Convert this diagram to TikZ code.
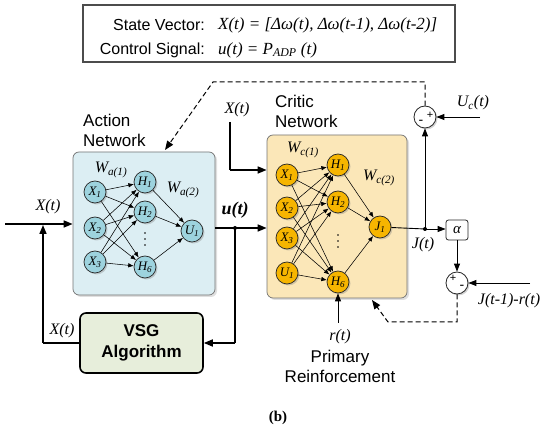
\documentclass[tikz,border=0pt]{standalone}
\usepackage{fontspec}
\setmainfont{Liberation Serif}
\setsansfont{Liberation Sans}
\usetikzlibrary{arrows.meta,shadows}
\definecolor{acfill}{HTML}{9DD3DE}
\definecolor{aboxc}{HTML}{DCEEF3}
\definecolor{cfill}{HTML}{F6B500}
\definecolor{cboxc}{HTML}{FBE7B8}
\definecolor{vsgc}{HTML}{E7EEDB}
\newcommand\ns[2]{\textit{#1}\textsubscript{\textit{#2}}}
\tikzset{
 neuA/.style={circle, draw=black!85, line width=0.7pt, fill=acfill, minimum size=22pt, inner sep=0pt,
   font=\fontsize{13}{14}\selectfont\itshape,
   drop shadow={opacity=0.35,shadow xshift=1.5pt,shadow yshift=-1.5pt}},
 neuC/.style={neuA, fill=cfill},
 netbox/.style={draw=black!55, line width=0.7pt, rounded corners=6pt, inner sep=0pt,
   drop shadow={opacity=0.25,shadow xshift=2pt,shadow yshift=-2pt}},
 wire/.style={-{Latex[length=5.5pt,width=4.5pt]}, line width=0.55pt},
 sig/.style={line width=1.6pt, -{Triangle[length=9pt,width=7pt]}},
 sigline/.style={line width=1.6pt},
 thinarr/.style={line width=0.9pt, -{Triangle[length=8pt,width=6pt]}},
 dashline/.style={line width=1pt, dash pattern=on 5pt off 3pt},
 sumnode/.style={circle, draw=black!85, line width=0.8pt, fill=white, minimum size=22pt, inner sep=0pt,
   drop shadow={opacity=0.35,shadow xshift=1.5pt,shadow yshift=-1.5pt}},
 signm/.style={font=\fontsize{14}{14}\selectfont\sffamily, inner sep=0pt},
 signp/.style={font=\fontsize{11}{11}\selectfont\sffamily, inner sep=0pt},
 lbl/.style={font=\fontsize{16}{17}\selectfont\itshape, inner sep=0pt},
 sans/.style={font=\fontsize{17}{20}\selectfont\sffamily, inner sep=0pt},
 wlbl/.style={font=\fontsize{16}{17}\selectfont\itshape, inner sep=0pt},
 jdot/.style={circle, fill=black, inner sep=0pt, minimum size=4pt},
 topsans/.style={font=\fontsize{16}{17}\selectfont\sffamily, inner sep=0pt},
 topform/.style={font=\fontsize{17}{18}\selectfont\itshape, inner sep=0pt},
}
\begin{document}
\begin{tikzpicture}[x=1pt,y=-1pt]
\useasboundingbox (0,0) rectangle (550,435);
% top box
\node[draw=black!70, line width=1.2pt, minimum width=372pt, minimum height=57pt] (top) at (269,33.5) {};
\node[anchor=east, topsans] (sv) at (205,25) {State Vector:};
\node[anchor=west, topform] (svf) at (218,25) {X(t) = [Δω(t), Δω(t-1), Δω(t-2)]};
\node[anchor=east, topsans] (cs) at (205,50) {Control Signal:};
\node[anchor=west, topform] (csf) at (218,50) {u(t) = P\textsubscript{ADP} (t)};

% boxes
\node[netbox, fill=aboxc, minimum width=142pt, minimum height=143pt] (abox) at (144,223.5) {};
\node[netbox, fill=cboxc, minimum width=140pt, minimum height=163pt] (cbox) at (337,216.5) {};
\node[sans, align=left, anchor=west] (aname) at (83,130) {Action\\Network};
\node[sans, align=left, anchor=west] (cname) at (275,111) {Critic\\Network};

% action network
\node[neuA] (aX1) at (95,192) {\ns{X}{1}};
\node[neuA] (aX2) at (95,228) {\ns{X}{2}};
\node[neuA] (aX3) at (95,262) {\ns{X}{3}};
\node[neuA] (aH1) at (145,182) {\ns{H}{1}};
\node[neuA] (aH2) at (145,212) {\ns{H}{2}};
\node[neuA] (aH6) at (145,267) {\ns{H}{6}};
\node[neuA] (aU1) at (192,231) {\ns{U}{1}};
\foreach \i in {aX1,aX2,aX3} \foreach \j in {aH1,aH2,aH6} \draw[wire] (\i) -- (\j);
\foreach \j in {aH1,aH2,aH6} \draw[wire] (\j) -- (aU1);
\foreach \y in {233,239,245} \fill (145,\y) circle (0.8pt);
\node[wlbl] (wa1) at (111,170) {W\textsubscript{a(1)}};
\node[wlbl] (wa2) at (183,190) {W\textsubscript{a(2)}};

% critic network
\node[neuC] (cX1) at (287,175) {\ns{X}{1}};
\node[neuC] (cX2) at (287,208) {\ns{X}{2}};
\node[neuC] (cX3) at (287,238) {\ns{X}{3}};
\node[neuC] (cU1) at (287,273) {\ns{U}{1}};
\node[neuC] (cH1) at (338,165) {\ns{H}{1}};
\node[neuC] (cH2) at (338,202) {\ns{H}{2}};
\node[neuC] (cH6) at (338,282) {\ns{H}{6}};
\node[neuC] (cJ1) at (380,227) {\ns{J}{1}};
\foreach \i in {cX1,cX2,cX3,cU1} \foreach \j in {cH1,cH2,cH6} \draw[wire] (\i) -- (\j);
\foreach \j in {cH1,cH2,cH6} \draw[wire] (\j) -- (cJ1);
\foreach \y in {235,241,247} \fill (338,\y) circle (0.8pt);
\node[wlbl] (wc1) at (303,150) {W\textsubscript{c(1)}};
\node[wlbl] (wc2) at (379,178) {W\textsubscript{c(2)}};

% VSG
\node[draw=black, line width=1.6pt, rounded corners=6pt, fill=vsgc, minimum width=123pt, minimum height=60pt,
  align=center, font=\fontsize{17}{21}\selectfont\sffamily\bfseries] (vsg) at (141.5,343) {VSG\\Algorithm};

% signals
\coordinate (xin) at (5,224);
\node[lbl] (xtl) at (48,207) {X(t)};
\draw[sig] (xin) -- (abox.west |- xin);
\coordinate (lc) at (43,343);
\coordinate (lt) at (43,225);
\draw[sigline] (vsg.west) -- (lc);
\draw[sig] (lc) -- (lt);
\node[lbl] (xtl2) at (62,331) {X(t)};

\coordinate (uo) at (215,228);
\node[jdot] (uj) at (235,228) {};
\draw[sig] (uo) -- (cbox.west |- uo);
\coordinate (ud) at (235,343);
\draw[sigline] (uj.center) -- (ud);
\draw[sig] (ud) -- (vsg.east);
\node[font=\fontsize{18}{19}\selectfont\itshape\bfseries, inner sep=0pt] (utl) at (235,210) {u(t)};

\node[lbl] (xtc) at (237,110) {X(t)};
\coordinate (xc1) at (230,122);
\coordinate (xc2) at (230,170);
\draw[sigline] (xc1) -- (xc2);
\draw[sig] (xc2) -- (cbox.west |- xc2);

% right side
\node[sumnode] (s1) at (425,117) {};
\node[signm] at (421,122) {-};
\node[signp] at (430,115) {+};
\node[sumnode] (s2) at (457,283) {};
\node[signp] at (453,278) {+};
\node[signm] at (462,287) {-};
\node[draw=black!85, line width=0.8pt, rounded corners=2.5pt, minimum width=22pt, minimum height=20pt, inner sep=0pt,
  font=\fontsize{15}{16}\selectfont\itshape] (alpha) at (457,230) {α};

\node[jdot] (jj) at (425,229) {};
\draw[line width=0.9pt] (cJ1) -- (jj.center);
\draw[thinarr] (jj.center) -- (alpha.west |- jj);
\draw[thinarr] (jj.center) -- (s1.south);
\node[lbl] (jtl) at (423,245) {J(t)};
\draw[thinarr] (alpha.south) -- (s2.north);

\coordinate (ucs) at (480,117);
\draw[thinarr] (ucs) -- (s1.east);
\node[lbl] (ucl) at (473,103) {U\textsubscript{c}(t)};
\coordinate (jrs) at (530,283);
\draw[thinarr] (jrs) -- (s2.east);
\node[lbl] (jrl) at (509,301) {J(t-1)-r(t)};

\coordinate (d1) at (425,82);
\coordinate (d2) at (213,82);
\coordinate (d3) at (165,150);
\draw[dashline, -{Triangle[length=9pt,width=7pt]}] (s1.north) -- (d1) -- (d2) -- (d3);
\coordinate (e1) at (457,322);
\coordinate (e2) at (388,322);
\coordinate (e3) at (372,300);
\draw[dashline, -{Triangle[length=9pt,width=7pt]}] (s2.south) -- (e1) -- (e2) -- (e3);

\coordinate (rs) at (338,323);
\draw[thinarr] (rs) -- (cH6.south);
\node[lbl] (rl) at (340,337) {r(t)};
\node[sans, align=center] (prl) at (340,366) {Primary\\Reinforcement};

\node[font=\fontsize{15}{16}\selectfont\bfseries, inner sep=0pt] (cap) at (278,418) {(b)};
\end{tikzpicture}
\end{document}
